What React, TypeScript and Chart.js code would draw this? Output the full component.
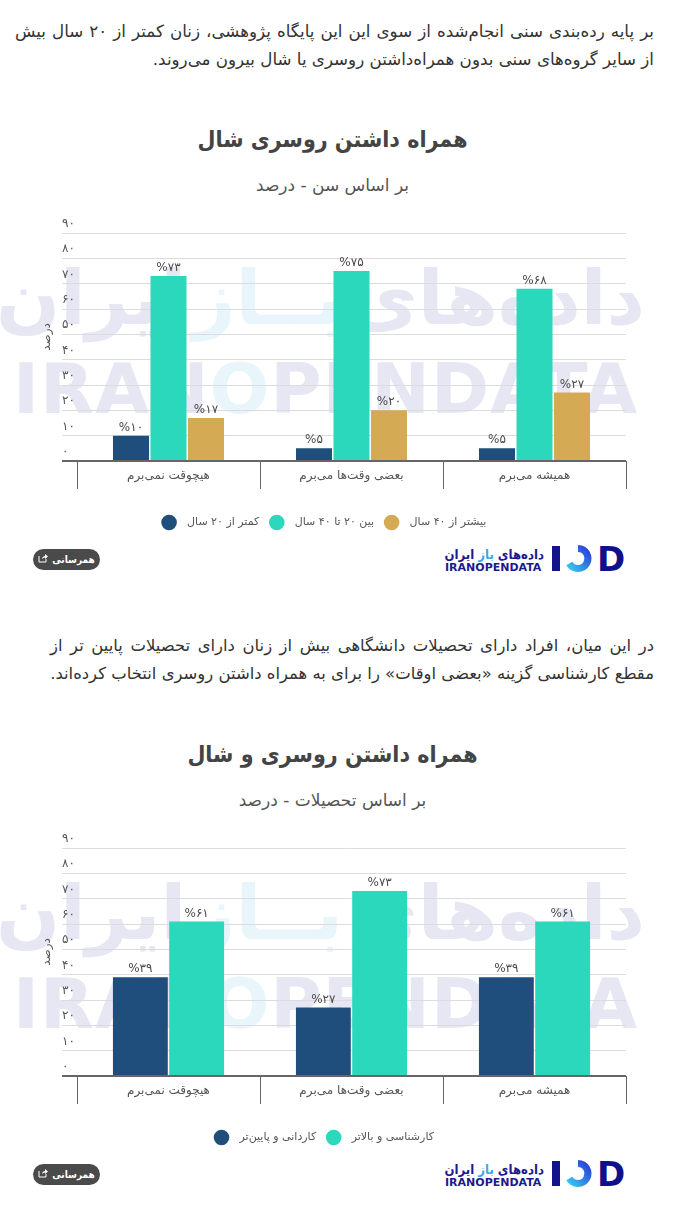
import { useEffect, useRef } from "react";
import type { CSSProperties } from "react";
import Chart from "chart.js/auto";

const categories = ["هیچوقت نمی‌برم", "بعضی وقت‌ها می‌برم", "همیشه می‌برم"];
const yTicks = [0, 90];

const ageNames = ["کمتر از ۲۰ سال", "بین ۲۰ تا ۴۰ سال", "بیشتر از ۴۰ سال"];
const ageUnder20 = [10, 5, 5];
const age20to40 = [73, 75, 68];
const ageOver40 = [17, 20, 27];

const eduNames = ["کاردانی و پایین‌تر", "کارشناسی و بالاتر"];
const eduLow = [39, 27, 39];
const eduHigh = [61, 73, 61];

const colors = ["#1f4e7c", "#2bd8bb", "#d4ab54"];
const FONT = "'DejaVu Sans', sans-serif";
const NARROW = "'DejaVu Sans Condensed', 'DejaVu Sans', sans-serif";

const faDigits = (n: number) => String(n).replace(/\d/g, (d) => "۰۱۲۳۴۵۶۷۸۹"[Number(d)]);

const valueLabels = {
    id: "valueLabels",
    afterDatasetsDraw(chart: any) {
        const { ctx } = chart;
        ctx.save();
        ctx.font = `12px ${FONT}`;
        ctx.fillStyle = "#4a4a4a";
        ctx.textAlign = "center";
        ctx.textBaseline = "bottom";
        chart.data.datasets.forEach((ds: any, i: number) => {
            chart.getDatasetMeta(i).data.forEach((bar: any, j: number) => {
                ctx.fillText("%" + faDigits(ds.data[j]), bar.x, bar.y - 2);
            });
        });
        ctx.restore();
    },
};

// the axis title sits a little above the middle of the scale in the original
const axisTitle = {
    id: "axisTitle",
    afterDraw(chart: any) {
        const { ctx } = chart;
        ctx.save();
        ctx.translate(47, chart.scales.y.getPixelForValue(49));
        ctx.rotate(-Math.PI / 2);
        ctx.font = `12px ${FONT}`;
        ctx.fillStyle = "#555";
        ctx.textAlign = "center";
        ctx.textBaseline = "middle";
        ctx.fillText("درصد", 0, 0);
        ctx.restore();
    },
};

const BarChart = ({ names, values, top }: { names: string[]; values: number[][]; top: number }) => {
    const canvasRef = useRef<HTMLCanvasElement>(null);

    useEffect(() => {
        if (!canvasRef.current) return;
        const chart = new Chart(canvasRef.current, {
            type: "bar",
            data: {
                labels: categories,
                datasets: names.map((name, i) => ({
                    label: name,
                    data: values[i],
                    backgroundColor: colors[i],
                    categoryPercentage: 0.615,
                    barPercentage: values.length === 3 ? 0.96 : 0.975,
                })),
            },
            options: {
                responsive: false,
                animation: false,
                layout: { padding: { top: 33, left: 24, right: 14, bottom: 4 } },
                scales: {
                    x: {
                        afterFit: (s: any) => {
                            s.height = 44;
                        },
                        border: { display: false },
                        grid: { drawOnChartArea: false, tickLength: 28, tickColor: "#666", tickWidth: 1 },
                        ticks: {
                            padding: -20,
                            maxRotation: 0,
                            autoSkip: false,
                            color: "#555",
                            font: { family: FONT, size: 12 },
                        },
                    },
                    y: {
                        min: yTicks[0],
                        max: yTicks[1],
                        afterFit: (s: any) => {
                            s.width = 53;
                        },
                        border: { display: false },
                        grid: {
                            tickLength: 15,
                            color: (c: any) => (c.tick.value === 0 ? "#666" : "#dcdce0"),
                            tickColor: (c: any) => (c.tick.value === 0 ? "#666" : "#dcdce0"),
                            lineWidth: (c: any) => (c.tick.value === 0 ? 2 : 1),
                        },
                        ticks: {
                            stepSize: 10,
                            mirror: true,
                            padding: -15,
                            labelOffset: -9,
                            color: "#555",
                            font: { family: FONT, size: 12 },
                            callback: (v: any) => faDigits(Number(v)),
                        },
                    },
                },
                plugins: {
                    tooltip: { enabled: false },
                    legend: {
                        position: "bottom",
                        labels: {
                            usePointStyle: true,
                            pointStyle: "circle",
                            boxWidth: 11,
                            boxHeight: 11,
                            padding: 12,
                            color: "#555",
                            font: { family: FONT, size: 11 },
                            generateLabels: (c: any) =>
                                Chart.defaults.plugins.legend.labels
                                    .generateLabels(c)
                                    .map((l: any) => ({ ...l, text: "\u00A0\u00A0" + l.text })),
                        },
                    },
                },
            },
            plugins: [valueLabels, axisTitle],
        } as any);
        return () => {
            chart.destroy();
        };
    }, []);

    return (
        <canvas
            ref={canvasRef}
            width={640}
            height={342}
            style={{ position: "absolute", left: 0, top, width: 640, height: 342 }}
        ></canvas>
    );
};

const abs = (left: number, top: number, extra: CSSProperties): CSSProperties => ({
    position: "absolute",
    left,
    top,
    fontFamily: FONT,
    whiteSpace: "nowrap",
    ...extra,
});

const Watermark = ({ top }: { top: number }) => (
    <>
        <div
            dir="rtl"
            style={abs(0, top + 233, {
                width: 645,
                textAlign: "right",
                fontSize: 75,
                fontWeight: 700,
                lineHeight: "130px",
                wordSpacing: -20,
                color: "#e7e7f4",
            })}
        >
            داده‌های <span style={{ color: "#e8f5fb" }}>بــاز</span> ایران
        </div>
        <div
            style={abs(13, top + 354, {
                fontSize: 70,
                fontWeight: 700,
                lineHeight: "70px",
                letterSpacing: 1,
                color: "#e7e7f4",
            })}
        >
            IRAN<span style={{ color: "#e8f5fb" }}>O</span>PENDATA
        </div>
    </>
);

const Footer = ({ top }: { top: number }) => (
    <>
        <div
            dir="rtl"
            style={abs(33, top + 549, {
                width: 67,
                height: 21,
                borderRadius: 11,
                background: "#4a4a4a",
                color: "#fff",
                fontFamily: NARROW,
                fontSize: 10,
                fontWeight: 700,
                lineHeight: "21px",
                textAlign: "center",
            })}
        >
            همرسانی
            <svg width={10} height={9} style={{ marginRight: 4 }} viewBox="0 0 10 9">
                <path d="M1 2v6h7V5" fill="none" stroke="#fff" strokeWidth={1} />
                <path d="M4 5c0-2 2-3 3-3V0l3 2.5L7 5V3.5C6 3.5 5 4 4 5z" fill="#fff" />
            </svg>
        </div>
        <div dir="rtl" style={abs(445, top + 547, { width: 99, textAlign: "right", fontFamily: NARROW, fontSize: 13, fontWeight: 700, lineHeight: "16px", color: "#1b1a8e" })}>
            داده‌های <span style={{ color: "#3ea6e6" }}>باز</span> ایران
        </div>
        <div style={abs(445, top + 561, { fontSize: 11, fontWeight: 700, lineHeight: "13px", color: "#1b1a8e" })}>
            IRANOPENDATA
        </div>
        <svg style={{ position: "absolute", left: 550, top: top + 544 }} width={80} height={30}>
            <defs>
                <linearGradient id={"ring" + top} x1="0" y1="1" x2="1" y2="0">
                    <stop offset="0" stopColor="#35c6ee" />
                    <stop offset="1" stopColor="#2a3fd8" />
                </linearGradient>
            </defs>
            <rect x={2} y={2} width={8} height={25} fill="#14148a" />
            <path d="M 28 4.5 A 10 10 0 1 1 19.3 19.5" fill="none" stroke={`url(#ring${top})`} strokeWidth={7} />
            <text x={47} y={27} fontFamily="DejaVu Sans" fontWeight={700} fontSize={34} fill="#10108a">
                D
            </text>
        </svg>
    </>
);

const Heading = ({ title, subtitle, top }: { title: string; subtitle: string; top: number }) => (
    <>
        <div dir="rtl" style={abs(0, top + 122, { width: 665, textAlign: "center", fontFamily: NARROW, fontSize: 23, fontWeight: 700, lineHeight: "34px", color: "#444" })}>
            {title}
        </div>
        <div dir="rtl" style={abs(0, top + 173, { width: 665, textAlign: "center", fontSize: 17, lineHeight: "24px", color: "#555" })}>
            {subtitle}
        </div>
    </>
);

// first line of each paragraph is stretched to the column, as in the article text
const Para = ({ lines, top, left, size }: { lines: string[]; top: number; left: number; size: number }) => (
    <>
        {lines.map((line, i) => (
            <div
                key={i}
                dir="rtl"
                style={abs(left, top + i * 28, {
                    width: 654 - left,
                    whiteSpace: "normal",
                    textAlign: i === 0 ? "justify" : "right",
                    textAlignLast: i === 0 ? "justify" : "right",
                    fontSize: size,
                    lineHeight: "28px",
                    color: "#333",
                })}
            >
                {line}
            </div>
        ))}
    </>
);

export default function App() {
    return (
        <div style={{ position: "absolute", left: 0, top: 0, width: 681, height: 1209, overflow: "hidden", background: "#fff" }}>
            <Para
                top={17}
                left={15}
                size={16.7}
                lines={[
                    "بر پایه رده‌بندی سنی انجام‌شده از سوی این این پایگاه پژوهشی، زنان کمتر از ۲۰ سال بیش",
                    "از سایر گروه‌های سنی بدون همراه‌داشتن روسری یا شال بیرون می‌روند.",
                ]}
            />
            <Watermark top={0} />
            <Heading top={0} title="همراه داشتن روسری شال" subtitle="بر اساس سن - درصد" />
            <BarChart top={200} names={ageNames} values={[ageUnder20, age20to40, ageOver40]} />
            <Footer top={0} />

            <Para
                top={632}
                left={50}
                size={16.45}
                lines={[
                    "در این میان، افراد دارای تحصیلات دانشگاهی بیش از زنان دارای تحصیلات پایین تر از",
                    "مقطع کارشناسی گزینه «بعضی اوقات» را برای به همراه داشتن روسری انتخاب کرده‌اند.",
                ]}
            />
            <Watermark top={615} />
            <Heading top={615} title="همراه داشتن روسری و شال" subtitle="بر اساس تحصیلات - درصد" />
            <BarChart top={815} names={eduNames} values={[eduLow, eduHigh]} />
            <Footer top={615} />
        </div>
    );
}
